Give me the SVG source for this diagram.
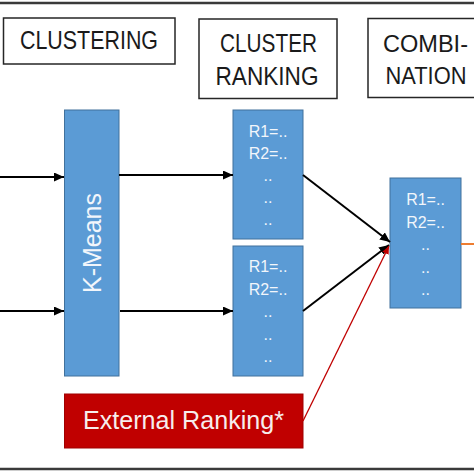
<svg xmlns="http://www.w3.org/2000/svg" width="474" height="474" viewBox="0 0 474 474">
<defs>
<style>
.hdr{fill:#fff;stroke:#262626;stroke-width:1.5}
.ht{font-family:"Liberation Sans",Arial,sans-serif;font-size:25px;fill:#1a1a1a;text-anchor:middle}
.blue{fill:#5B9BD5;stroke:#41719C;stroke-width:1}
.bt{font-family:"Liberation Sans",Arial,sans-serif;font-size:16px;fill:#F2F6FB;text-anchor:middle}
.conn{stroke:#000;stroke-width:2;fill:none}
</style>
<marker id="ah" markerUnits="userSpaceOnUse" markerWidth="10" markerHeight="9" refX="10" refY="4.5" orient="auto">
<path d="M0,0 L10,4.5 L0,9 z" fill="#000"/>
</marker>
<marker id="ahr" markerUnits="userSpaceOnUse" markerWidth="8" markerHeight="7" refX="8" refY="3.5" orient="auto">
<path d="M0,0 L8,3.5 L0,7 z" fill="#C00000"/>
</marker>
</defs>
<rect width="474" height="474" fill="#fff"/>
<line x1="0" y1="3" x2="474" y2="3" stroke="#3a3a3a" stroke-width="2.5"/>
<line x1="0" y1="469" x2="474" y2="469" stroke="#3a3a3a" stroke-width="2.5"/>

<g id="hdr-clustering">
<rect class="hdr" x="3.5" y="18" width="171.5" height="46"/>
<text class="ht" x="89" y="49" textLength="138" lengthAdjust="spacingAndGlyphs">CLUSTERING</text>
</g>
<g id="hdr-cluster-ranking">
<rect class="hdr" x="199" y="19" width="138" height="79.5"/>
<text class="ht" x="268.5" y="52" textLength="97" lengthAdjust="spacingAndGlyphs">CLUSTER</text>
<text class="ht" x="267" y="85" textLength="103" lengthAdjust="spacingAndGlyphs">RANKING</text>
</g>
<g id="hdr-combination">
<path class="hdr" d="M474,18.5 H368 V97.5 H474"/>
<text class="ht" x="425.5" y="52" font-size="24" style="font-size:24px" textLength="85" lengthAdjust="spacingAndGlyphs">COMBI-</text>
<text class="ht" x="426" y="84" style="font-size:24px" textLength="81" lengthAdjust="spacingAndGlyphs">NATION</text>
</g>

<g id="kmeans">
<rect class="blue" x="64.5" y="110" width="54.5" height="266"/>
<text x="92" y="243" transform="rotate(-90 92 243)" font-family="'Liberation Sans',Arial,sans-serif" font-size="25" fill="#F2F6FB" text-anchor="middle" dominant-baseline="central" textLength="100" lengthAdjust="spacingAndGlyphs">K-Means</text>
</g>

<g id="rank1">
<rect class="blue" x="233" y="110" width="70" height="129"/>
<text class="bt" x="268" y="137">R1=..</text>
<text class="bt" x="268" y="159">R2=..</text>
<text class="bt" x="268" y="181">..</text>
<text class="bt" x="268" y="203">..</text>
<text class="bt" x="268" y="225">..</text>
</g>

<g id="rank2">
<rect class="blue" x="233" y="246" width="70" height="130"/>
<text class="bt" x="268" y="272">R1=..</text>
<text class="bt" x="268" y="294.5">R2=..</text>
<text class="bt" x="268" y="317">..</text>
<text class="bt" x="268" y="339.5">..</text>
<text class="bt" x="268" y="362">..</text>
</g>

<g id="combined">
<rect class="blue" x="390" y="178" width="71" height="130"/>
<text class="bt" x="425.5" y="205">R1=..</text>
<text class="bt" x="425.5" y="228">R2=..</text>
<text class="bt" x="425.5" y="250">..</text>
<text class="bt" x="425.5" y="273">..</text>
<text class="bt" x="425.5" y="295">..</text>
</g>

<g id="external">
<rect x="64.5" y="394" width="238.5" height="54" fill="#C00000" stroke="#A00000" stroke-width="1"/>
<text x="183.5" y="429" font-family="'Liberation Sans',Arial,sans-serif" font-size="25" fill="#F7EDED" text-anchor="middle" textLength="201" lengthAdjust="spacingAndGlyphs">External Ranking*</text>
</g>

<g id="connectors">
<line class="conn" x1="0" y1="177" x2="64" y2="177" marker-end="url(#ah)"/>
<line class="conn" x1="0" y1="311" x2="64" y2="311" marker-end="url(#ah)"/>
<line class="conn" x1="119" y1="175" x2="233" y2="175" marker-end="url(#ah)"/>
<line class="conn" x1="120" y1="311" x2="233" y2="311" marker-end="url(#ah)"/>
<line class="conn" x1="303" y1="175" x2="390" y2="242" marker-end="url(#ah)"/>
<line class="conn" x1="303" y1="311" x2="389" y2="245" marker-end="url(#ah)"/>
<line x1="303" y1="421" x2="389" y2="246" stroke="#C00000" stroke-width="1.3" marker-end="url(#ahr)"/>
<line x1="461" y1="244" x2="474" y2="244" stroke="#ED7D31" stroke-width="2"/>
</g>
</svg>
